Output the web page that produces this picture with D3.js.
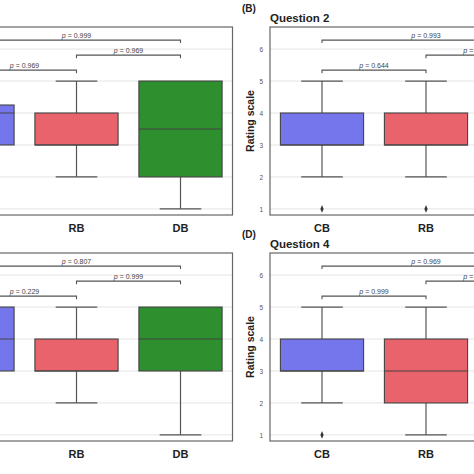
<!DOCTYPE html>
<html>
<head>
<meta charset="utf-8">
<script src="https://cdn.jsdelivr.net/npm/d3@7"></script>
<style>
  body { margin: 0; background: #fff; }
  svg { display: block; font-family: "Liberation Sans", Arial, sans-serif; }
</style>
</head>
<body>
<svg id="chart" width="474" height="474"></svg>
<script>
const groups = ["CB", "RB", "DB"];
const groupColors = ["#7676ec", "#e8636b", "#2e8f2e"];
const yTicks = [1, 2, 3, 4, 5, 6];
const panelLetters = ["(A)", "(B)", "(C)", "(D)"];
const panelTitles = ["Question 1", "Question 2", "Question 3", "Question 4"];

// box stats per group: [low whisker, Q1, median, Q3, high whisker]
const q1Stats = [[2, 3, 4, 4.25, 5], [2, 3, 3, 4, 5], [1, 2, 3.5, 5, 5]];
const q2Stats = [[2, 3, 3, 4, 5], [2, 3, 3, 4, 5], [2, 3, 4, 4, 5]];
const q3Stats = [[2, 3, 4, 5, 5], [2, 3, 3, 4, 5], [1, 3, 4, 5, 5]];
const q4Stats = [[2, 3, 3, 4, 5], [1, 2, 3, 4, 5], [2, 3, 3, 4, 5]];

const q1Outliers = [[], [], []];
const q2Outliers = [[1], [1], []];
const q3Outliers = [[], [], []];
const q4Outliers = [[1], [], []];

// significance brackets: pair, height on the rating scale, p-value
const pairs = [["CB", "RB"], ["RB", "DB"], ["CB", "DB"]];
const pairLevels = [5.34, 5.81, 6.28];
const q1P = ["0.969", "0.969", "0.999"];
const q2P = ["0.644", "0.999", "0.993"];
const q3P = ["0.229", "0.999", "0.807"];
const q4P = ["0.999", "0.999", "0.969"];

const allStats = [q1Stats, q2Stats, q3Stats, q4Stats];
const allOutliers = [q1Outliers, q2Outliers, q3Outliers, q4Outliers];
const allP = [q1P, q2P, q3P, q4P];

const svg = d3.select("#chart");
svg.append("rect").attr("width", 474).attr("height", 474).attr("fill", "#fff");

const width = 312, height = 188;
// the figure is cropped: left panels start outside the picture
const origins = [[-79.5, 27], [270, 27], [-79.5, 253], [270, 253]];

const x = d3.scaleBand()
  .domain(groups)
  .range([0, width])
  .paddingInner(0.2)
  .paddingOuter(0.1);

const y = d3.scaleLinear()
  .domain([0.81, 6.69])
  .range([height, 0]);

const color = d3.scaleOrdinal().domain(groups).range(groupColors);
const cx = g => x(g) + x.bandwidth() / 2;

function drawPanel(i) {
  const g = svg.append("g")
    .attr("transform", `translate(${origins[i][0]},${origins[i][1]})`);
  const leftVisible = origins[i][0] > 0;

  // grid
  g.selectAll(".grid")
    .data(yTicks)
    .enter().append("line")
    .attr("x1", 0).attr("x2", width)
    .attr("y1", d => y(d)).attr("y2", d => y(d))
    .attr("stroke", "#e4e4e4")
    .attr("stroke-width", 1);

  // panel letter, title and y axis only where they fall inside the crop
  if (leftVisible) {
    g.append("text")
      .text(panelLetters[i])
      .attr("x", -28)
      .attr("y", -15)
      .attr("font-size", 10)
      .attr("font-weight", "bold")
      .attr("fill", "#222");
    g.append("text")
      .text(panelTitles[i])
      .attr("x", 0)
      .attr("y", -5)
      .attr("font-size", 11.5)
      .attr("font-weight", "bold")
      .attr("fill", "#222");

    const yAxis = g.append("g")
      .call(d3.axisLeft(y).tickValues(yTicks).tickSize(0).tickPadding(7).tickFormat(d3.format("d")));
    yAxis.select(".domain").remove();
    yAxis.selectAll("text")
      .attr("font-family", "Liberation Sans, Arial, sans-serif")
      .attr("font-size", 6.5)
      .attr("fill", "#555");

    g.append("text")
      .text("Rating scale")
      .attr("transform", `translate(-16,${height / 2}) rotate(-90)`)
      .attr("text-anchor", "middle")
      .attr("font-size", 10.5)
      .attr("font-weight", "bold")
      .attr("fill", "#222");
  }

  // x axis labels
  const xAxis = g.append("g")
    .attr("transform", `translate(0,${height})`)
    .call(d3.axisBottom(x).tickSize(0).tickPadding(9));
  xAxis.select(".domain").remove();
  xAxis.selectAll("text")
    .attr("font-family", "Liberation Sans, Arial, sans-serif")
    .attr("font-size", 11)
    .attr("font-weight", "bold")
    .attr("fill", "#222");
  xAxis.selectAll(".tick")
    .filter(d => origins[i][0] + cx(d) < 0 || origins[i][0] + cx(d) > 474)
    .remove();

  const stats = allStats[i].map((s, k) => ({ group: groups[k], s: s }));

  // whiskers
  const wh = g.selectAll(".whisker").data(stats).enter().append("g");
  wh.append("line")
    .attr("x1", d => cx(d.group)).attr("x2", d => cx(d.group))
    .attr("y1", d => y(d.s[0])).attr("y2", d => y(d.s[1]))
    .attr("stroke", "#555").attr("stroke-width", 1.2);
  wh.append("line")
    .attr("x1", d => cx(d.group)).attr("x2", d => cx(d.group))
    .attr("y1", d => y(d.s[3])).attr("y2", d => y(d.s[4]))
    .attr("stroke", "#555").attr("stroke-width", 1.2);
  [0, 4].forEach(k => {
    wh.filter(d => (k === 0 ? d.s[0] < d.s[1] : d.s[4] > d.s[3]))
      .append("line")
      .attr("x1", d => cx(d.group) - x.bandwidth() / 4)
      .attr("x2", d => cx(d.group) + x.bandwidth() / 4)
      .attr("y1", d => y(d.s[k])).attr("y2", d => y(d.s[k]))
      .attr("stroke", "#555").attr("stroke-width", 1.2);
  });

  // boxes
  g.selectAll(".box").data(stats).enter().append("rect")
    .attr("x", d => x(d.group))
    .attr("width", x.bandwidth())
    .attr("y", d => y(d.s[3]))
    .attr("height", d => y(d.s[1]) - y(d.s[3]))
    .attr("fill", d => color(d.group))
    .attr("stroke", "#444")
    .attr("stroke-width", 1.1);

  // medians
  g.selectAll(".median").data(stats).enter().append("line")
    .attr("x1", d => x(d.group)).attr("x2", d => x(d.group) + x.bandwidth())
    .attr("y1", d => y(d.s[2])).attr("y2", d => y(d.s[2]))
    .attr("stroke", "#444").attr("stroke-width", 1.1);

  // outliers
  const outs = [];
  allOutliers[i].forEach((list, k) => list.forEach(v => outs.push({ group: groups[k], v: v })));
  g.selectAll(".outlier").data(outs).enter().append("path")
    .attr("d", d3.symbol(d3.symbolDiamond, 14))
    .attr("transform", d => `translate(${cx(d.group)},${y(d.v)}) scale(0.8,1.1)`)
    .attr("fill", "#333");

  // brackets
  pairs.forEach((p, k) => {
    const x1 = cx(p[0]), x2 = cx(p[1]);
    const yl = y(pairLevels[k]);
    g.append("path")
      .attr("d", `M${x1},${yl + 3}V${yl}H${x2}V${yl + 3}`)
      .attr("fill", "none")
      .attr("stroke", "#555")
      .attr("stroke-width", 1.1);
    const t = g.append("text")
      .attr("x", (x1 + x2) / 2)
      .attr("y", yl - 2)
      .attr("text-anchor", "middle")
      .attr("font-size", 7)
      .attr("fill", "#444");
    t.append("tspan").attr("font-style", "italic").text("p");
    t.append("tspan").text(" = " + allP[i][k]);
  });

  // frame
  g.append("rect")
    .attr("width", width).attr("height", height)
    .attr("fill", "none")
    .attr("stroke", "#666")
    .attr("stroke-width", 1.2);
}

[0, 1, 2, 3].forEach(drawPanel);
</script>
</body>
</html>
